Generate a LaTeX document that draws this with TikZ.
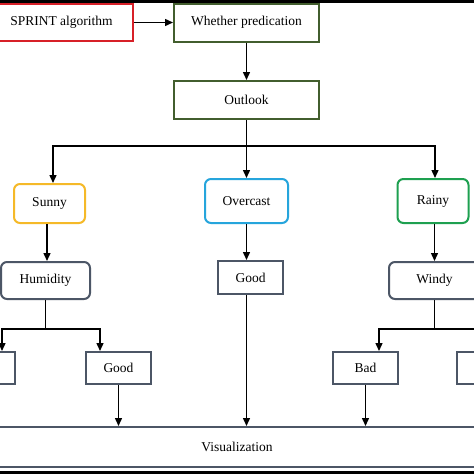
\documentclass[tikz,border=0pt]{standalone}
\usepackage{fontspec}
\setmainfont{Liberation Serif}
\usetikzlibrary{arrows.meta}
\definecolor{cred}{RGB}{215,32,40}
\definecolor{cdgreen}{RGB}{66,94,46}
\definecolor{cyellow}{RGB}{245,185,40}
\definecolor{cblue}{RGB}{38,165,220}
\definecolor{cgreen}{RGB}{30,160,80}
\definecolor{cslate}{RGB}{76,86,102}
\tikzset{
  box/.style={draw, line width=2pt, fill=white, inner sep=0pt, font=\fontsize{13.5}{16}\selectfont},
  rbox/.style={box, rounded corners=6pt},
  arr/.style={line width=1.4pt, -{Triangle[length=8pt,width=7pt]}},
  ln/.style={line width=1.4pt}
}
\begin{document}
\begin{tikzpicture}[x=1pt,y=-1pt]
\useasboundingbox (0,0) rectangle (474,474);
\clip (0,0) rectangle (474,474);
\fill[white] (0,0) rectangle (474,474);
% nodes
\node[box, draw=cred, minimum width=143pt, minimum height=37.5pt] (sprint) at (61.5,22.5) {SPRINT algorithm};
\node[box, draw=cdgreen, minimum width=145pt, minimum height=38pt] (whether) at (246.5,22.5) {Whether predication};
\node[box, draw=cdgreen, minimum width=145pt, minimum height=38pt] (outlook) at (246.5,100) {Outlook};
\node[rbox, draw=cyellow, minimum width=71pt, minimum height=39pt] (sunny) at (49.5,203.5) {Sunny};
\node[rbox, draw=cblue, minimum width=83pt, minimum height=44pt] (overcast) at (246.5,201) {Overcast};
\node[rbox, draw=cgreen, minimum width=71pt, minimum height=44pt] (rainy) at (433,201) {Rainy};
\node[rbox, draw=cslate, minimum width=89pt, minimum height=37pt] (humidity) at (45.5,280.5) {Humidity};
\node[box, draw=cslate, minimum width=65pt, minimum height=33pt] (goodO) at (250.5,277.5) {Good};
\node[rbox, draw=cslate, minimum width=91pt, minimum height=37pt] (windy) at (434.5,280.5) {Windy};
\node[box, draw=cslate, minimum width=65pt, minimum height=32pt] (leftbox) at (-17.5,368) {};
\node[box, draw=cslate, minimum width=65pt, minimum height=32pt] (goodL) at (118.5,368) {Good};
\node[box, draw=cslate, minimum width=65pt, minimum height=32pt] (bad) at (365.5,368) {Bad};
\node[box, draw=cslate, minimum width=65pt, minimum height=32pt] (rightbox) at (489.5,368) {};
\node[box, draw=cslate, minimum width=500pt, minimum height=40pt] (vis) at (237,447) {Visualization};
% helper coordinates
\coordinate (b1) at (53,146);
\coordinate (b3) at (435,146);
\coordinate (hl) at (2,329);
\coordinate (hr) at (100,329);
\coordinate (wl) at (379,329);
\coordinate (wr) at (500,329);
% connectors
\draw[arr] (sprint.east) -- (whether.west);
\draw[arr] (whether.south) -- (outlook.north);
\draw[arr] (outlook.south) |- (b1) -- (b1 |- sunny.north);
\draw[arr] (outlook.south) |- (b3) -- (b3 |- rainy.north);
\draw[arr] (outlook.south) -- (overcast.north);
\draw[arr] (sunny.south -| 47,0) -- (humidity.north -| 47,0);
\draw[arr] (overcast.south) -- (goodO.north -| overcast.south);
\draw[arr] (rainy.south -| windy.north) -- (windy.north);
\draw[arr] (humidity.south) |- (hl) -- (hl |- leftbox.north);
\draw[arr] (humidity.south) |- (hr) -- (hr |- goodL.north);
\draw[arr] (windy.south) |- (wl) -- (wl |- bad.north);
\draw[arr] (windy.south) |- (wr) -- (wr |- rightbox.north);
\draw[arr] (goodL.south) -- (goodL.south |- vis.north);
\draw[arr] (goodO.south -| overcast.south) -- (vis.north -| overcast.south);
\draw[arr] (bad.south) -- (bad.south |- vis.north);
% black bars at top and bottom
\fill[black] (0,0) rectangle (474,3);
\fill[black] (0,471) rectangle (474,474);
\end{tikzpicture}
\end{document}
